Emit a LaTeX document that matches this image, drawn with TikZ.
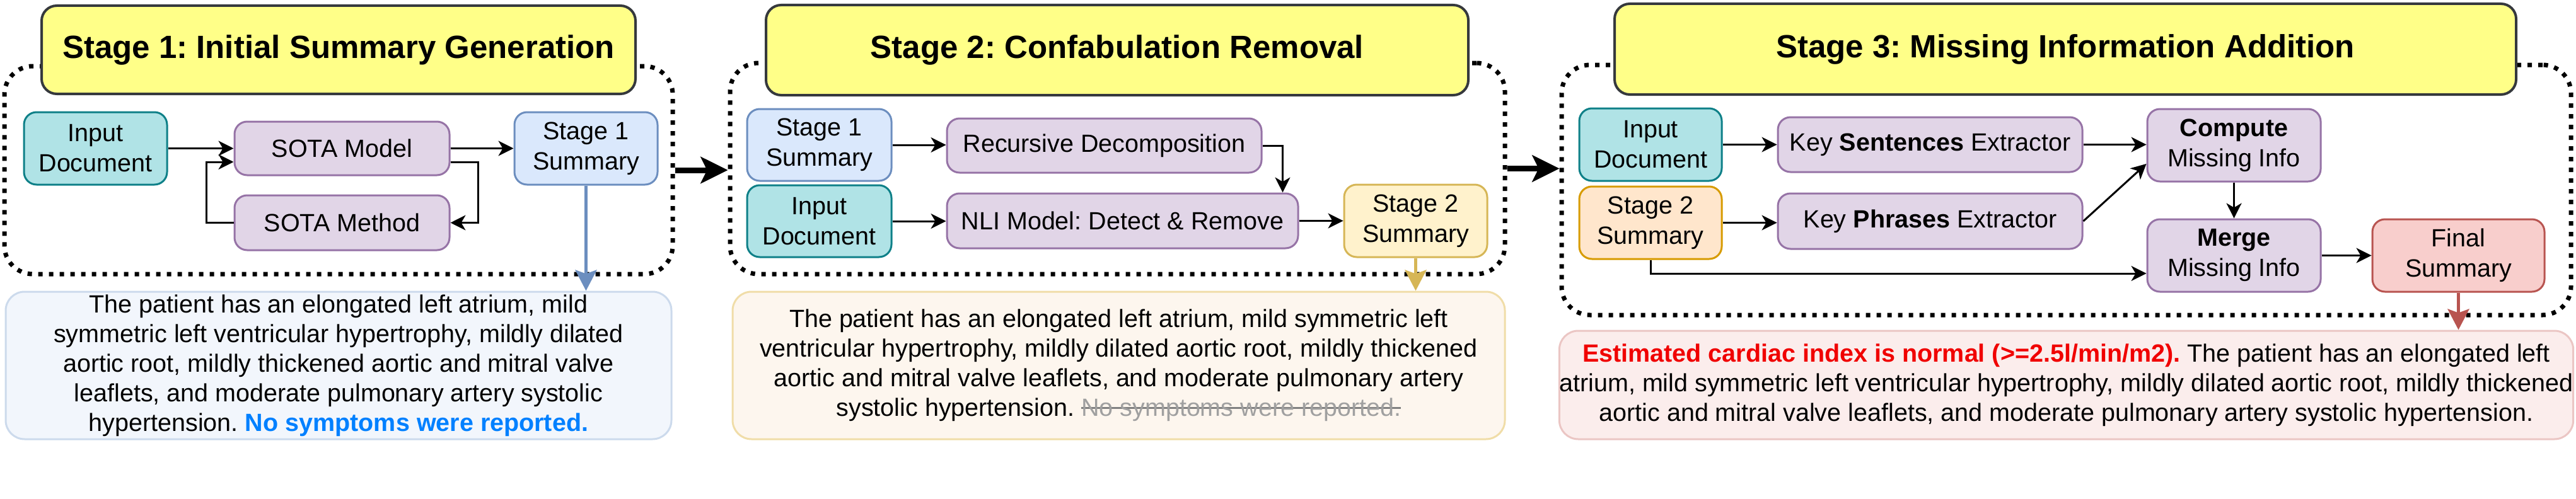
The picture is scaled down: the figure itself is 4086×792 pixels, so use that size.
\documentclass[tikz,border=0pt]{standalone}
\usepackage{fontspec}
\setmainfont{Liberation Sans}
\usetikzlibrary{arrows.meta,calc}
\frenchspacing
\definecolor{inFill}{HTML}{B0E3E6}
\definecolor{inDraw}{HTML}{0E8088}
\definecolor{puFill}{HTML}{E1D5E7}
\definecolor{puDraw}{HTML}{9673A6}
\definecolor{blFill}{HTML}{DAE8FC}
\definecolor{blDraw}{HTML}{6C8EBF}
\definecolor{ylFill}{HTML}{FFF2CC}
\definecolor{ylDraw}{HTML}{D6B656}
\definecolor{orFill}{HTML}{FFE6CC}
\definecolor{orDraw}{HTML}{D79B00}
\definecolor{rdFill}{HTML}{F8CECC}
\definecolor{rdDraw}{HTML}{B85450}
\definecolor{tiFill}{HTML}{FFFF88}
\definecolor{tiDraw}{HTML}{36393D}
\definecolor{tbBlFill}{HTML}{F2F6FC}
\definecolor{tbBlDraw}{HTML}{CCDAEC}
\definecolor{tbYlFill}{HTML}{FDF6EE}
\definecolor{tbYlDraw}{HTML}{F0DDA8}
\definecolor{tbRdFill}{HTML}{FBEDEC}
\definecolor{tbRdDraw}{HTML}{EBC6C4}
\definecolor{noteBlue}{HTML}{0080FF}
\definecolor{noteRed}{HTML}{F00000}
\definecolor{strikeText}{HTML}{A0A0A0}
\definecolor{strikeLine}{HTML}{808080}
\newcommand{\myNodeFont}{\fontsize{39.5}{48}\selectfont}
\newcommand{\myBodyFont}{\fontsize{39.5}{47}\selectfont}
\newcommand{\myTitleFont}{\fontsize{51}{60}\selectfont\bfseries}
\newsavebox{\myStrikeBox}
\newcommand{\greystrike}[1]{\sbox{\myStrikeBox}{\textcolor{strikeText}{#1}}\rlap{\textcolor{strikeLine}{\rule[0.3em]{\wd\myStrikeBox}{3pt}}}\usebox{\myStrikeBox}}
\tikzset{
  box/.style={rounded corners=20pt, line width=3pt, align=center, inner sep=0pt, font=\myNodeFont},
  inbox/.style={box, fill=inFill, draw=inDraw},
  pubox/.style={box, fill=puFill, draw=puDraw},
  blbox/.style={box, fill=blFill, draw=blDraw},
  ylbox/.style={box, fill=ylFill, draw=ylDraw},
  orbox/.style={box, fill=orFill, draw=orDraw},
  rdbox/.style={box, fill=rdFill, draw=rdDraw},
  titlebox/.style={rounded corners=24pt, line width=4pt, fill=tiFill, draw=tiDraw, align=center, inner sep=0pt, font=\myTitleFont},
  dotbox/.style={draw=black, line width=7pt, dash pattern=on 7pt off 10pt, rounded corners=45pt, inner sep=0pt},
  textbox/.style={rounded corners=30pt, line width=3pt, align=center, inner sep=0pt, font=\myBodyFont},
  arr/.style={-{Stealth[length=24pt,width=24pt,inset=7pt]}, line width=3pt, draw=black},
  bigarr/.style={-{Stealth[length=43pt,width=42pt,inset=10pt]}, line width=9pt, draw=black},
  colarr/.style={-{Stealth[length=33pt,width=34pt,inset=6pt]}, line width=5pt},
}
\begin{document}
\begin{tikzpicture}[x=1pt,y=-1pt]
\useasboundingbox (0,0) rectangle (4086,792);
% dotted containers
\node[dotbox, minimum width=1060pt, minimum height=330pt] (b1) at (537,270) {};
\node[dotbox, minimum width=1229pt, minimum height=335pt] (b2) at (1772.5,267.5) {};
\node[dotbox, minimum width=1601pt, minimum height=397pt] (b3) at (3277.5,301.5) {};
% titles
\node[titlebox, minimum width=942pt, minimum height=140pt] (t1) at (537,79) {Stage 1: Initial Summary Generation};
\node[titlebox, minimum width=1114pt, minimum height=143pt] (t2) at (1772,79.5) {Stage 2: Confabulation Removal};
\node[titlebox, minimum width=1430pt, minimum height=144pt] (t3) at (3276,78) {Stage 3: Missing Information Addition};
% stage 1
\node[inbox, minimum width=227pt, minimum height=115pt] (in1) at (151.5,235.5) {Input\\Document};
\node[pubox, minimum width=341pt, minimum height=85pt] (sm) at (542.5,235.5) {SOTA Model};
\node[blbox, minimum width=227pt, minimum height=115pt] (s1sum) at (929.5,235.5) {Stage 1\\Summary};
\node[pubox, minimum width=341pt, minimum height=87pt] (smeth) at (542.5,353.5) {SOTA Method};
\node[textbox, fill=tbBlFill, draw=tbBlDraw, minimum width=1056pt, minimum height=234pt] (text1) at (537,580)
  {The patient has an elongated left atrium, mild\\
   symmetric left ventricular hypertrophy, mildly dilated\\
   aortic root, mildly thickened aortic and mitral valve\\
   leaflets, and moderate pulmonary artery systolic\\
   hypertension. {\color{noteBlue}\bfseries No symptoms were reported.}};
\draw[arr] (in1) -- (sm);
\draw[arr] (sm) -- (s1sum);
\draw[arr] ($(sm.east)+(0,21.5)$) -| ($(smeth.east)+(44,0)$) -- (smeth.east);
\draw[arr] (smeth.west) -| ($(sm.west)+(-43,21.5)$) -- ($(sm.west)+(0,21.5)$);
\draw[colarr, blDraw] (s1sum.south) -- (s1sum.south |- text1.north);
% stage 2
\node[blbox, minimum width=229pt, minimum height=114pt] (s1in2) at (1299.5,230) {Stage 1\\Summary};
\node[inbox, minimum width=229pt, minimum height=114pt] (in2) at (1299.5,351) {Input\\Document};
\node[pubox, minimum width=499pt, minimum height=86pt] (rec) at (1751.5,231) {Recursive Decomposition};
\node[pubox, minimum width=557pt, minimum height=87pt] (nli) at (1780.5,350.5) {NLI Model: Detect \& Remove};
\node[ylbox, minimum width=227pt, minimum height=115pt] (s2sum) at (2245.5,350.5) {Stage 2\\Summary};
\node[textbox, fill=tbYlFill, draw=tbYlDraw, minimum width=1225pt, minimum height=234pt] (text2) at (1774.5,580)
  {The patient has an elongated left atrium, mild symmetric left\\
   ventricular hypertrophy, mildly dilated aortic root, mildly thickened\\
   aortic and mitral valve leaflets, and moderate pulmonary artery\\
   systolic hypertension. \greystrike{No symptoms were reported.}};
\draw[arr] (s1in2.east) -- (s1in2.east -| rec.west);
\draw[arr] (in2.east) -- (in2.east -| nli.west);
\draw[arr] (nli.east) -- (nli.east -| s2sum.west);
\draw[arr] (rec.east) -| ($(nli.north east)+(-26,0)$);
\draw[colarr, ylDraw] (s2sum.south) -- (s2sum.south |- text2.north);
% stage 3
\node[inbox, minimum width=226pt, minimum height=115pt] (in3) at (2618,229.5) {Input\\Document};
\node[orbox, minimum width=226pt, minimum height=115pt] (s2in3) at (2618,353.5) {Stage 2\\Summary};
\node[pubox, minimum width=483pt, minimum height=87pt] (ks) at (3061.5,229.5) {Key \textbf{Sentences} Extractor};
\node[pubox, minimum width=483pt, minimum height=88pt] (kp) at (3061.5,351) {Key \textbf{Phrases} Extractor};
\node[pubox, minimum width=275pt, minimum height=115pt] (comp) at (3543.5,230.5) {\textbf{Compute}\\Missing Info};
\node[pubox, minimum width=275pt, minimum height=115pt] (merge) at (3543.5,405.5) {\textbf{Merge}\\Missing Info};
\node[rdbox, minimum width=273pt, minimum height=115pt] (final) at (3899.5,405.5) {Final\\Summary};
\node[textbox, fill=tbRdFill, draw=tbRdDraw, minimum width=1601pt, minimum height=172pt] (text3) at (3277.5,611)
  {{\color{noteRed}\bfseries Estimated cardiac index is normal (>=2.5l/min/m2).} The patient has an elongated left\\
   atrium, mild symmetric left ventricular hypertrophy, mildly dilated aortic root, mildly thickened\\
   aortic and mitral valve leaflets, and moderate pulmonary artery systolic hypertension.};
\draw[arr] (in3.east) -- (in3.east -| ks.west);
\draw[arr] (s2in3.east) -- (s2in3.east -| kp.west);
\draw[arr] (ks.east) -- (ks.east -| comp.west);
\draw[arr] (kp.east) -- ($(comp.west)+(0,29.5)$);
\draw[arr] (comp) -- (merge);
\draw[arr] (merge) -- (final);
\draw[arr] (s2in3.south) |- ($(merge.west)+(0,28.5)$);
\draw[colarr, rdDraw] (final.south) -- (final.south |- text3.north);
% stage connectors
\draw[bigarr] (b1.east) -- (b1.east -| b2.west);
\draw[bigarr] (b2.east) -- (b2.east -| b3.west);
\end{tikzpicture}
\end{document}
